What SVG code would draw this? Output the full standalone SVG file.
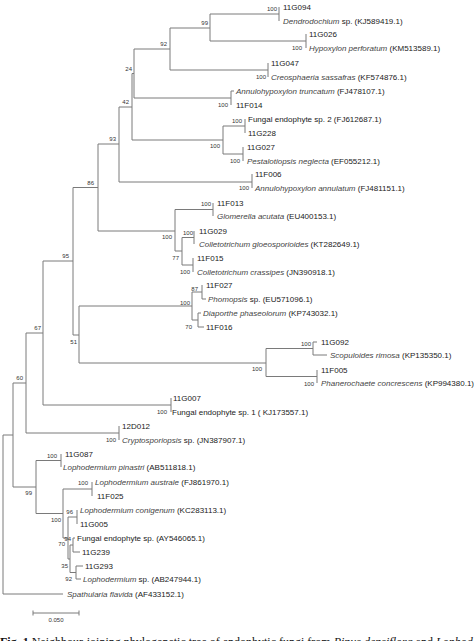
<svg xmlns="http://www.w3.org/2000/svg" width="474" height="641" viewBox="0 0 474 641">
<style>
.br{fill:none;stroke:#7a7a7a;stroke-width:1}
.lf{font-family:"Liberation Sans",Arial,sans-serif;font-size:8px;fill:#222}
.i{font-style:italic;fill:#444}
.bs{font-family:"Liberation Sans",Arial,sans-serif;font-size:6px;fill:#333;text-anchor:end}
.sc{font-family:"Liberation Sans",Arial,sans-serif;font-size:6px;fill:#333;text-anchor:middle}
.cap{font-family:"Liberation Serif","Times New Roman",serif;font-size:12px;fill:#111}
</style>
<rect width="474" height="641" fill="#fff"/>
<g id="connectors" class="br">
<path d="M3 435V594M3 435H13M3 594H63"/>
<path d="M13 383V487M13 383H26M13 487H36"/>
<path d="M26 333V433M26 333H43M26 433H119"/>
<path d="M43 261V405M43 261H73M43 405H171"/>
<path d="M73 187.5V335M73 187.5H98M73 335H79"/>
<path d="M98 144V231M98 144H119M98 231H175"/>
<path d="M119 107V182M119 107H132M119 182H252"/>
<path d="M132 73.5V140M132 73.5H134M132 140H223"/>
<path d="M134 49V98M134 49H170M134 98H231"/>
<path d="M170 28V70M170 28H210M170 70H268"/>
<path d="M210 14V41M210 14H279M210 41H306"/>
<path d="M279 7V21M306 34V48M268 63V77M231 91V105M231 91H234"/>
<path d="M223 126V154M223 126H245M223 154H243M245 119V133M243 147V161M252 174V188"/>
<path d="M175 209.5V251M175 209.5H213M175 251H182M213 203V216"/>
<path d="M182 237.5V265M182 237.5H194M182 265H193M194 231V244M193 258V272"/>
<path d="M79 306V363M79 306H192M79 363H266"/>
<path d="M192 292V320M192 292H202M192 320H198"/>
<path d="M202 285V299M202 299H206M198 313V327M198 313H201M198 327H204"/>
<path d="M266 348.5V376.5M266 348.5H313M266 376.5H317"/>
<path d="M313 342V355M313 342H317M313 355H327M317 370V383"/>
<path d="M171 398V412M119 426V440"/>
<path d="M36 460.5V513.5M36 460.5H61M36 513.5H63M61 454V467"/>
<path d="M63 489V538M63 489H92M63 538H68M92 482V496"/>
<path d="M68 517V559M68 517H77M68 559H70M77 510V524"/>
<path d="M70 545V572.5M70 545H73M70 572.5H76"/>
<path d="M73 538V552M73 538H75M73 552H80"/>
<path d="M76 566V579M76 566H83M76 579H81"/>
</g>
<g id="bootstrap">
<text class="bs" x="277" y="11">100</text>
<text class="bs" x="208" y="25">99</text>
<text class="bs" x="302" y="50">100</text>
<text class="bs" x="167" y="46">92</text>
<text class="bs" x="266" y="79">100</text>
<text class="bs" x="132" y="70.5">24</text>
<text class="bs" x="228" y="107">100</text>
<text class="bs" x="129" y="104">42</text>
<text class="bs" x="242" y="123">100</text>
<text class="bs" x="220" y="148">100</text>
<text class="bs" x="240" y="163">100</text>
<text class="bs" x="116" y="141">93</text>
<text class="bs" x="249" y="190">100</text>
<text class="bs" x="94" y="185">86</text>
<text class="bs" x="211" y="206">100</text>
<text class="bs" x="172" y="239">100</text>
<text class="bs" x="193" y="235">100</text>
<text class="bs" x="179" y="260">77</text>
<text class="bs" x="190" y="274">100</text>
<text class="bs" x="69" y="258">95</text>
<text class="bs" x="198" y="291">87</text>
<text class="bs" x="190" y="305">100</text>
<text class="bs" x="192" y="329">70</text>
<text class="bs" x="77" y="344">51</text>
<text class="bs" x="311" y="346">100</text>
<text class="bs" x="262" y="371">100</text>
<text class="bs" x="314" y="386">100</text>
<text class="bs" x="41" y="330">67</text>
<text class="bs" x="167" y="414">100</text>
<text class="bs" x="23" y="380">60</text>
<text class="bs" x="116" y="442">100</text>
<text class="bs" x="57" y="458">100</text>
<text class="bs" x="32" y="495">99</text>
<text class="bs" x="88" y="485">100</text>
<text class="bs" x="61" y="522">100</text>
<text class="bs" x="73" y="514">96</text>
<text class="bs" x="71" y="541">94</text>
<text class="bs" x="65" y="546">70</text>
<text class="bs" x="68" y="568">35</text>
<text class="bs" x="72" y="581">92</text>
</g>
<g id="leaf-11G094"><text class="lf" x="283" y="10">11G094</text></g>
<g id="leaf-Dendrodochium"><text class="lf" x="283" y="24"><tspan class="i">Dendrodochium</tspan> sp. (KJ589419.1)</text></g>
<g id="leaf-11G026"><text class="lf" x="309" y="37">11G026</text></g>
<g id="leaf-Hypoxylon"><text class="lf" x="309" y="51"><tspan class="i">Hypoxylon perforatum</tspan> (KM513589.1)</text></g>
<g id="leaf-11G047"><text class="lf" x="271" y="66">11G047</text></g>
<g id="leaf-Creosphaeria"><text class="lf" x="271" y="80"><tspan class="i">Creosphaeria sassafras</tspan> (KF574876.1)</text></g>
<g id="leaf-Annulo-truncatum"><text class="lf" x="236" y="94"><tspan class="i">Annulohypoxylon truncatum</tspan> (FJ478107.1)</text></g>
<g id="leaf-11F014"><text class="lf" x="236" y="108">11F014</text></g>
<g id="leaf-Fungal2"><text class="lf" x="248" y="122">Fungal endophyte sp. 2 (FJ612687.1)</text></g>
<g id="leaf-11G228"><text class="lf" x="248" y="136">11G228</text></g>
<g id="leaf-11G027"><text class="lf" x="247" y="150">11G027</text></g>
<g id="leaf-Pestalotiopsis"><text class="lf" x="247" y="164"><tspan class="i">Pestalotiopsis neglecta</tspan> (EF055212.1)</text></g>
<g id="leaf-11F006"><text class="lf" x="255" y="177">11F006</text></g>
<g id="leaf-Annulo-annulatum"><text class="lf" x="255" y="191"><tspan class="i">Annulohypoxylon annulatum</tspan> (FJ481151.1)</text></g>
<g id="leaf-11F013"><text class="lf" x="217" y="206">11F013</text></g>
<g id="leaf-Glomerella"><text class="lf" x="217" y="219"><tspan class="i">Glomerella acutata</tspan> (EU400153.1)</text></g>
<g id="leaf-11G029"><text class="lf" x="199" y="234">11G029</text></g>
<g id="leaf-C-gloeo"><text class="lf" x="199" y="247"><tspan class="i">Colletotrichum gloeosporioides</tspan> (KT282649.1)</text></g>
<g id="leaf-11F015"><text class="lf" x="197" y="261">11F015</text></g>
<g id="leaf-C-crassipes"><text class="lf" x="197" y="275"><tspan class="i">Colletotrichum crassipes</tspan> (JN390918.1)</text></g>
<g id="leaf-11F027"><text class="lf" x="206" y="288">11F027</text></g>
<g id="leaf-Phomopsis"><text class="lf" x="208" y="302"><tspan class="i">Phomopsis</tspan> sp. (EU571096.1)</text></g>
<g id="leaf-Diaporthe"><text class="lf" x="203" y="316"><tspan class="i">Diaporthe phaseolorum</tspan> (KP743032.1)</text></g>
<g id="leaf-11F016"><text class="lf" x="206" y="330">11F016</text></g>
<g id="leaf-11G092"><text class="lf" x="321" y="345">11G092</text></g>
<g id="leaf-Scopuloides"><text class="lf" x="330" y="358"><tspan class="i">Scopuloides rimosa</tspan> (KP135350.1)</text></g>
<g id="leaf-11F005"><text class="lf" x="321" y="373">11F005</text></g>
<g id="leaf-Phanerochaete"><text class="lf" x="321" y="386"><tspan class="i">Phanerochaete concrescens</tspan> (KP994380.1)</text></g>
<g id="leaf-11G007"><text class="lf" x="173" y="401">11G007</text></g>
<g id="leaf-Fungal1"><text class="lf" x="172" y="415">Fungal endophyte sp. 1 ( KJ173557.1)</text></g>
<g id="leaf-12D012"><text class="lf" x="122" y="429">12D012</text></g>
<g id="leaf-Cryptosporiopsis"><text class="lf" x="122" y="443"><tspan class="i">Cryptosporiopsis</tspan> sp. (JN387907.1)</text></g>
<g id="leaf-11G087"><text class="lf" x="65" y="457">11G087</text></g>
<g id="leaf-L-pinastri"><text class="lf" x="63" y="470"><tspan class="i">Lophodermium pinastri</tspan> (AB511818.1)</text></g>
<g id="leaf-L-australe"><text class="lf" x="95" y="485"><tspan class="i">Lophodermium australe</tspan> (FJ861970.1)</text></g>
<g id="leaf-11F025"><text class="lf" x="97" y="499">11F025</text></g>
<g id="leaf-L-conigenum"><text class="lf" x="80" y="513"><tspan class="i">Lophodermium conigenum</tspan> (KC283113.1)</text></g>
<g id="leaf-11G005"><text class="lf" x="80" y="527">11G005</text></g>
<g id="leaf-Fungal"><text class="lf" x="77" y="541">Fungal endophyte sp. (AY546065.1)</text></g>
<g id="leaf-11G239"><text class="lf" x="82" y="555">11G239</text></g>
<g id="leaf-11G293"><text class="lf" x="85" y="569">11G293</text></g>
<g id="leaf-L-sp"><text class="lf" x="83" y="582"><tspan class="i">Lophodermium</tspan> sp. (AB247944.1)</text></g>
<g id="leaf-Spathularia"><text class="lf" x="67" y="597"><tspan class="i">Spathularia flavida</tspan> (AF433152.1)</text></g>
<g id="scale-bar">
<path class="br" d="M33 613H79M33 610.5V615.5M79 610.5V615.5"/>
<text class="sc" x="56" y="622">0.050</text>
</g>
<g id="caption"><text class="cap" x="0" y="646"><tspan font-weight="bold">Fig. 1</tspan> Neighbour-joining phylogenetic tree of endophytic fungi from <tspan font-style="italic">Pinus densiflora</tspan> and <tspan font-style="italic">Lophodermium</tspan></text></g>
</svg>
